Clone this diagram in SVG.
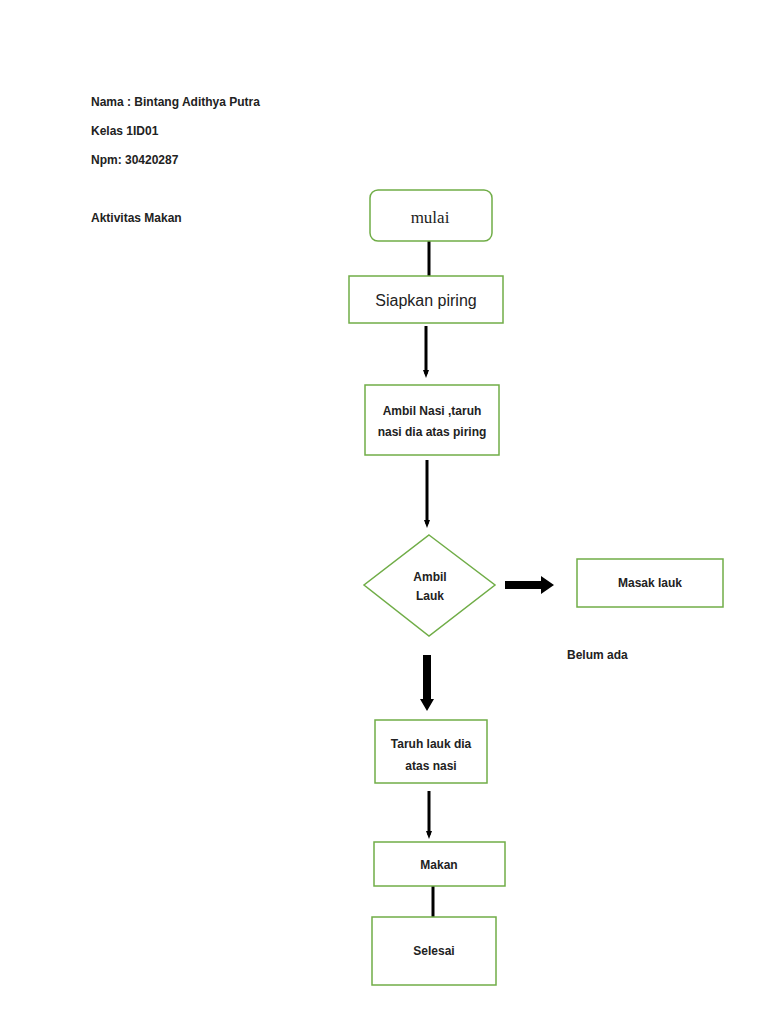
<svg xmlns="http://www.w3.org/2000/svg" width="768" height="1024" viewBox="0 0 768 1024">
<defs>
<style>
.box{fill:#fff;stroke:#70ad47;stroke-width:1.5}
.t{font-family:"Liberation Sans",Arial,sans-serif;font-size:12px;font-weight:bold;fill:#222;text-anchor:middle}
.h{font-family:"Liberation Sans",Arial,sans-serif;font-size:12px;font-weight:bold;fill:#222}
.ln{stroke:#000;stroke-width:3;fill:none}
</style>
<marker id="ah" markerWidth="8" markerHeight="6" refX="4" refY="3" orient="auto" markerUnits="userSpaceOnUse">
<path d="M0,0 L8,3 L0,6 Z" fill="#000"/>
</marker>
</defs>
<rect width="768" height="1024" fill="#fff"/>
<g id="header">
<text class="h" x="91" y="106">Nama : Bintang Adithya Putra</text>
<text class="h" x="91" y="135">Kelas 1ID01</text>
<text class="h" x="91" y="164">Npm: 30420287</text>
<text class="h" x="91" y="222">Aktivitas Makan</text>
</g>
<g id="connectors">
<line class="ln" x1="429" y1="241" x2="429" y2="276"/>
<line class="ln" x1="426" y1="326" x2="426" y2="374" marker-end="url(#ah)"/>
<line class="ln" x1="427" y1="460" x2="427" y2="524" marker-end="url(#ah)"/>
<path d="M505,581 L541,581 L541,576 L554,585 L541,594 L541,589 L505,589 Z" fill="#000"/>
<path d="M423,655 L431,655 L431,699 L434,699 L427,711 L420,699 L423,699 Z" fill="#000"/>
<line class="ln" x1="429" y1="791" x2="429" y2="835" marker-end="url(#ah)"/>
<line class="ln" x1="433" y1="886" x2="433" y2="917"/>
</g>
<g id="mulai">
<rect class="box" x="370" y="190" width="122" height="51" rx="8"/>
<text x="430" y="223" font-family="'Liberation Serif','Times New Roman',serif" font-size="17" fill="#222" text-anchor="middle">mulai</text>
</g>
<g id="siapkan">
<rect class="box" x="349" y="276" width="154" height="47"/>
<text x="426" y="306" font-family="'Liberation Sans',Arial,sans-serif" font-size="16" fill="#222" text-anchor="middle">Siapkan piring</text>
</g>
<g id="ambilnasi">
<rect class="box" x="365" y="385" width="134" height="70"/>
<text class="t" x="432" y="415">Ambil Nasi ,taruh</text>
<text class="t" x="432" y="436">nasi dia atas piring</text>
</g>
<g id="ambillauk">
<polygon class="box" points="429,535 495,585 429,636 364,585"/>
<text class="t" x="430" y="581">Ambil</text>
<text class="t" x="430" y="600">Lauk</text>
</g>
<g id="masaklauk">
<rect class="box" x="577" y="559" width="146" height="48"/>
<text class="t" x="650" y="587">Masak lauk</text>
</g>
<g id="belumada">
<text class="h" x="567" y="659">Belum ada</text>
</g>
<g id="taruh">
<rect class="box" x="375" y="720" width="112" height="63"/>
<text class="t" x="431" y="748">Taruh lauk dia</text>
<text class="t" x="431" y="770">atas nasi</text>
</g>
<g id="makan">
<rect class="box" x="374" y="842" width="131" height="44"/>
<text class="t" x="439" y="869">Makan</text>
</g>
<g id="selesai">
<rect class="box" x="372" y="917" width="124" height="68"/>
<text class="t" x="434" y="955">Selesai</text>
</g>
</svg>
